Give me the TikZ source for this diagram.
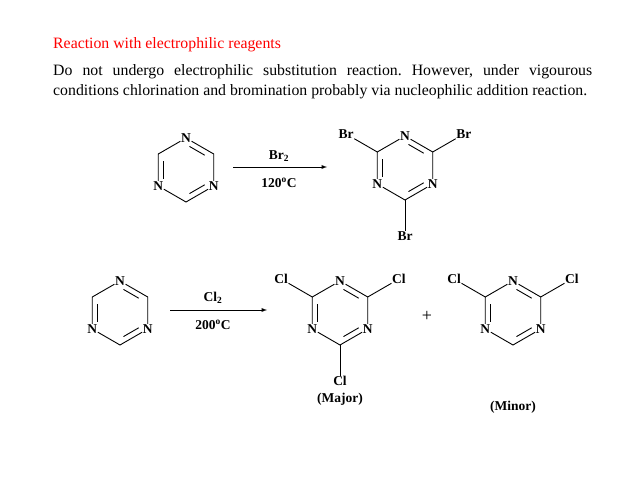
\documentclass[tikz,border=0pt]{standalone}
\usepackage{fontspec}
\setmainfont{Liberation Serif}
\usetikzlibrary{calc}
\tikzset{
  atom/.style={font=\bfseries\fontsize{13.5}{14}\selectfont, inner sep=0.5pt, fill=white},
  bond/.style={line width=0.9pt},
  inner/.style={line width=0.9pt, shorten <=4pt, shorten >=4pt},
  rxn/.style={line width=0.9pt, -{latex}},
  cond/.style={font=\bfseries\fontsize{13.5}{14}\selectfont, inner sep=0pt},
}
\newcommand\tri[3]{%
  \coordinate (#1c) at (#2,-#3);
  \node[atom] (#11) at ($(#1c)+(90:32)$) {N};
  \coordinate (#12) at ($(#1c)+(30:32)$);
  \node[atom] (#13) at ($(#1c)+(-30:32)$) {N};
  \coordinate (#14) at ($(#1c)+(-90:32)$);
  \node[atom] (#15) at ($(#1c)+(210:32)$) {N};
  \coordinate (#16) at ($(#1c)+(150:32)$);
  \draw[bond] (#11)--(#12)--(#13)--(#14)--(#15)--(#16)--(#11);
  \draw[inner] ($(#1c)!0.8!(#11)$)--($(#1c)!0.8!(#12)$);
  \draw[inner] ($(#1c)!0.8!(#16)$)--($(#1c)!0.8!(#15)$);
  \draw[inner] ($(#1c)!0.8!(#14)$)--($(#1c)!0.8!(#13)$);
}
\begin{document}
\begin{tikzpicture}[x=1pt,y=1pt]
\useasboundingbox (0,0) rectangle (638,-478);
\node[anchor=west, text=red, font=\fontsize{15.8}{20}\selectfont, inner sep=0] (title) at (53,-45) {Reaction with electrophilic reagents};
\node[anchor=north west, text width=539pt, align=justify, font=\fontsize{15.8}{20}\selectfont, inner sep=0] (para) at (53,-64)
 {\frenchspacing\hyphenpenalty=10000 Do not undergo electrophilic substitution reaction. However, under vigourous\linebreak conditions chlorination and bromination probably via nucleophilic addition reaction.};
% top reaction
\tri{a}{186}{170}
\tri{b}{405}{168}
\node[atom] (bBr1) at ($(b6)+(150:36)$) {Br};
\node[atom] (bBr2) at ($(b2)+(30:36)$) {Br};
\node[atom] (bBr3) at ($(b4)+(-90:36)$) {Br};
\draw[bond] (b6)--(bBr1); \draw[bond] (b2)--(bBr2); \draw[bond] (b4)--(bBr3);
\coordinate (r1s) at (233,-167); \coordinate (r1e) at (327,-167);
\draw[rxn] (r1s)--(r1e);
\node[cond] (r1a) at (279,-156) {Br$_\mathbf{2}$};
\node[cond] (r1b) at (279,-183) {120$^\mathbf{o}$C};
% bottom reaction
\tri{c}{120}{313}
\tri{d}{340}{313}
\node[atom] (dCl1) at ($(d6)+(150:36)$) {Cl};
\node[atom] (dCl2) at ($(d2)+(30:36)$) {Cl};
\node[atom] (dCl3) at ($(d4)+(-90:36)$) {Cl};
\draw[bond] (d6)--(dCl1); \draw[bond] (d2)--(dCl2); \draw[bond] (d4)--(dCl3);
\tri{e}{513}{313}
\node[atom] (eCl1) at ($(e6)+(150:36)$) {Cl};
\node[atom] (eCl2) at ($(e2)+(30:36)$) {Cl};
\draw[bond] (e6)--(eCl1); \draw[bond] (e2)--(eCl2);
\coordinate (r2s) at (170,-310); \coordinate (r2e) at (267,-310);
\draw[rxn] (r2s)--(r2e);
\node[cond] (r2a) at (213,-298) {Cl$_\mathbf{2}$};
\node[cond] (r2b) at (213,-325) {200$^\mathbf{o}$C};
\node[font=\fontsize{18}{18}\selectfont] (plus) at (427,-316) {+};
\node[cond] (maj) at (340,-399) {(Major)};
\node[cond] (min) at (513,-407) {(Minor)};
\end{tikzpicture}
\end{document}
